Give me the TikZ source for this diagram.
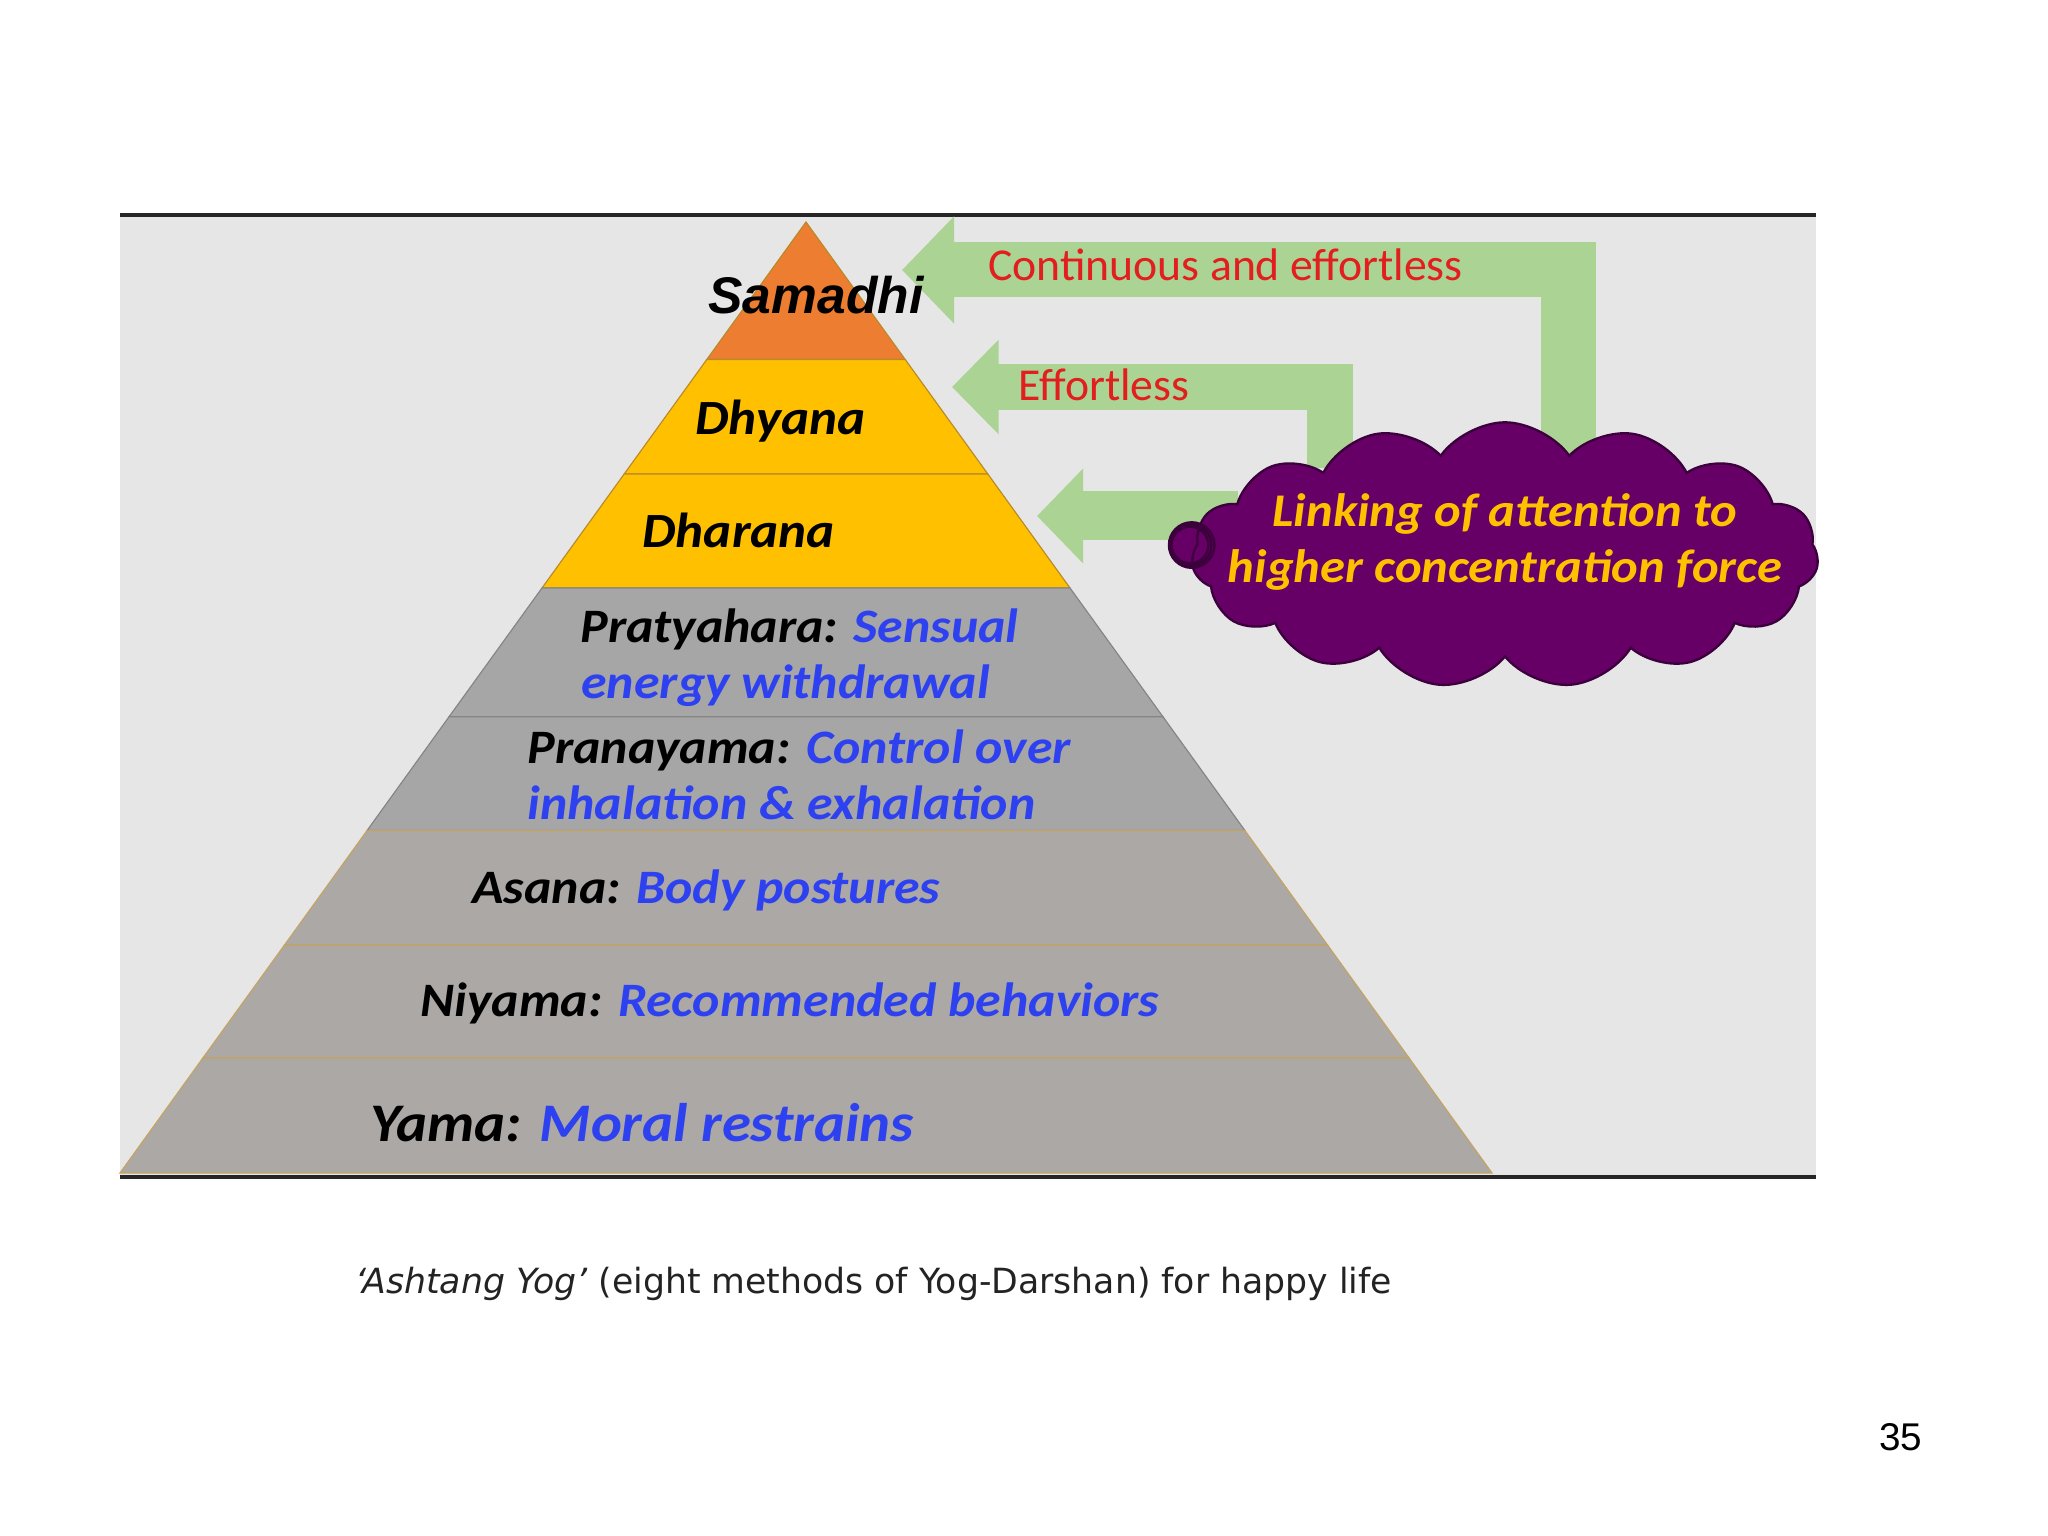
\documentclass[tikz,border=0pt]{standalone}
\usepackage{fontspec}
\setmainfont{Carlito}
\newfontfamily\calibri[FakeStretch=1.08]{Carlito}
\newfontfamily\arialsans{Liberation Sans}
\newfontfamily\verdanasans{DejaVu Sans}
\usetikzlibrary{arrows.meta,shapes.symbols,shapes.callouts}

\definecolor{panelgray}{HTML}{E6E6E6}
\definecolor{samadhiorange}{HTML}{ED7D31}
\definecolor{dhyanagold}{HTML}{FFC000}
\definecolor{upperrow}{HTML}{A6A6A6}
\definecolor{lowerrow}{HTML}{ABA8A6}
\definecolor{goldedge}{HTML}{B98A2A}
\definecolor{grayedge}{HTML}{858585}
\definecolor{tanedge}{HTML}{C4A460}
\definecolor{yogablue}{RGB}{45,65,240}
\definecolor{flowred}{RGB}{226,30,30}
\definecolor{flowgreen}{HTML}{ABD394}
\definecolor{cloudpurple}{HTML}{660066}
\definecolor{cloudedge}{HTML}{3C003C}
\definecolor{captiongray}{RGB}{35,35,35}

\pgfdeclarelayer{background}
\pgfdeclarelayer{flows}
\pgfsetlayers{background,flows,main}

\begin{document}
\begin{tikzpicture}[x=0.015cm,y=-0.015cm,
    layer label/.style={anchor=base west,inner sep=0pt,
      font=\calibri\bfseries\itshape\fontsize{20.5}{24}\selectfont},
    top label/.style={layer label,font=\calibri\bfseries\itshape\fontsize{21}{25}\selectfont},
    flow label/.style={anchor=base west,inner sep=0pt,text=flowred,
      font=\fontsize{19.5}{23}\selectfont},
    flow/.style={draw=flowgreen,line join=miter},
    thought/.style={cloud callout,draw=cloudedge,fill=cloudpurple,line width=1pt,
      cloud puffs=15,cloud puff arc=110,cloud ignores aspect,inner sep=0pt},
    thought text/.style={align=center,inner sep=0pt,text=dhyanagold,
      font=\calibri\bfseries\itshape\fontsize{20}{24.2}\selectfont}]
  \useasboundingbox (0,0) rectangle (2048,1536);

  \begin{pgfonlayer}{background}
    \fill[white] (0,0) rectangle (2048,1536);
    \fill[panelgray] (120,215) rectangle (1816,1177);
    \draw[line width=0.06cm,black!85] (120,215) -- (1816,215);
    \draw[line width=0.05cm,black!85] (120,1177) -- (1816,1177);
    % pyramid, top to bottom
    \filldraw[fill=samadhiorange,draw=goldedge,line width=0.5pt]
      (806,222) -- (905.2,359.5) -- (706.8,359.5) -- cycle;
    \filldraw[fill=dhyanagold,draw=goldedge,line width=0.5pt]
      (706.8,359.5) -- (905.2,359.5) -- (987.8,474) -- (624.2,474) -- cycle;
    \filldraw[fill=dhyanagold,draw=goldedge,line width=0.5pt]
      (624.2,474) -- (987.8,474) -- (1070,588) -- (542,588) -- cycle;
    \filldraw[fill=upperrow,draw=grayedge,line width=0.5pt]
      (542,588) -- (1070,588) -- (1162.9,716.7) -- (449.1,716.7) -- cycle;
    \filldraw[fill=upperrow,draw=grayedge,line width=0.5pt]
      (449.1,716.7) -- (1162.9,716.7) -- (1244.9,830.5) -- (367.1,830.5) -- cycle;
    \filldraw[fill=lowerrow,draw=tanedge,line width=0.5pt]
      (367.1,830.5) -- (1244.9,830.5) -- (1327.5,945) -- (284.5,945) -- cycle;
    \filldraw[fill=lowerrow,draw=tanedge,line width=0.5pt]
      (284.5,945) -- (1327.5,945) -- (1409.1,1058) -- (202.9,1058) -- cycle;
    \filldraw[fill=lowerrow,draw=tanedge,line width=0.5pt]
      (202.9,1058) -- (1409.1,1058) -- (1492,1173) -- (120,1173) -- cycle;
  \end{pgfonlayer}

  \node[layer label,font=\arialsans\bfseries\itshape\fontsize{22}{26}\selectfont]
    (samadhi) at (708,314) {Samadhi};
  \node[top label] (dhyana) at (695,435) {Dhyana};
  \node[top label] (dharana) at (642,548) {Dharana};
  \node[layer label] (pratyahara) at (580,643)
    {Pratyahara: \textcolor{yogablue}{Sensual}};
  \node[layer label,text=yogablue] (pratyahara2) at (581,699) {energy withdrawal};
  \node[layer label] (pranayama) at (527,764)
    {Pranayama: \textcolor{yogablue}{Control over}};
  \node[layer label,text=yogablue] (pranayama2) at (527,820) {inhalation \& exhalation};
  \node[layer label] (asana) at (472,904) {Asana: \textcolor{yogablue}{Body postures}};
  \node[layer label] (niyama) at (420,1017)
    {Niyama: \textcolor{yogablue}{Recommended behaviors}};
  \node[layer label,font=\calibri\bfseries\itshape\fontsize{23.2}{27}\selectfont]
    (yama) at (370,1142) {Yama: \textcolor{yogablue}{Moral restrains}};

  \node[thought,minimum width=9.4cm,minimum height=3.98cm,
        callout absolute pointer={(1190,545)},
        callout pointer start size=0.7cm and 0.75cm,
        callout pointer end size=0.45cm and 0.55cm,
        callout pointer segments=3]
    (cloud) at (1505,555) {};
  \node[thought text] (linking) at ([yshift=5.6pt]cloud.center)
    {Linking of attention to\\higher concentration force};

  \coordinate (samadhi tip) at (902,270);
  \coordinate (samadhi turn) at (1568.5,270);
  \coordinate (dhyana tip) at (952,387);
  \coordinate (dhyana turn) at (1330,387);
  \coordinate (dharana tip) at (1037,516);

  \begin{pgfonlayer}{flows}
    \draw[flow,line width=0.825cm,-{Triangle[length=0.78cm,width=1.56cm]}]
      ([yshift=-20pt]cloud.north -| samadhi turn) -- (samadhi turn) -- (samadhi tip);
    \draw[flow,line width=0.7cm,-{Triangle[length=0.7cm,width=1.38cm]}]
      ([yshift=-20pt]cloud.north -| dhyana turn) -- (dhyana turn) -- (dhyana tip);
    \draw[flow,line width=0.735cm,-{Triangle[length=0.69cm,width=1.38cm]}]
      ([xshift=20pt]cloud.west |- dharana tip) -- (dharana tip);
  \end{pgfonlayer}

  \node[flow label] (continuous) at (988,281) {Continuous and effortless};
  \node[flow label] (effortless) at (1018,401) {Effortless};

  \node[anchor=base west,inner sep=0pt,text=captiongray,
        font=\verdanasans\fontsize{14.8}{17}\selectfont]
    (caption) at (355,1293)
    {{\itshape ‘Ashtang Yog’} (eight methods of Yog-Darshan) for happy life};
  \node[anchor=base west,inner sep=0pt,font=\arialsans\fontsize{16.5}{19}\selectfont]
    (page) at (1879,1450) {35};
\end{tikzpicture}
\end{document}
